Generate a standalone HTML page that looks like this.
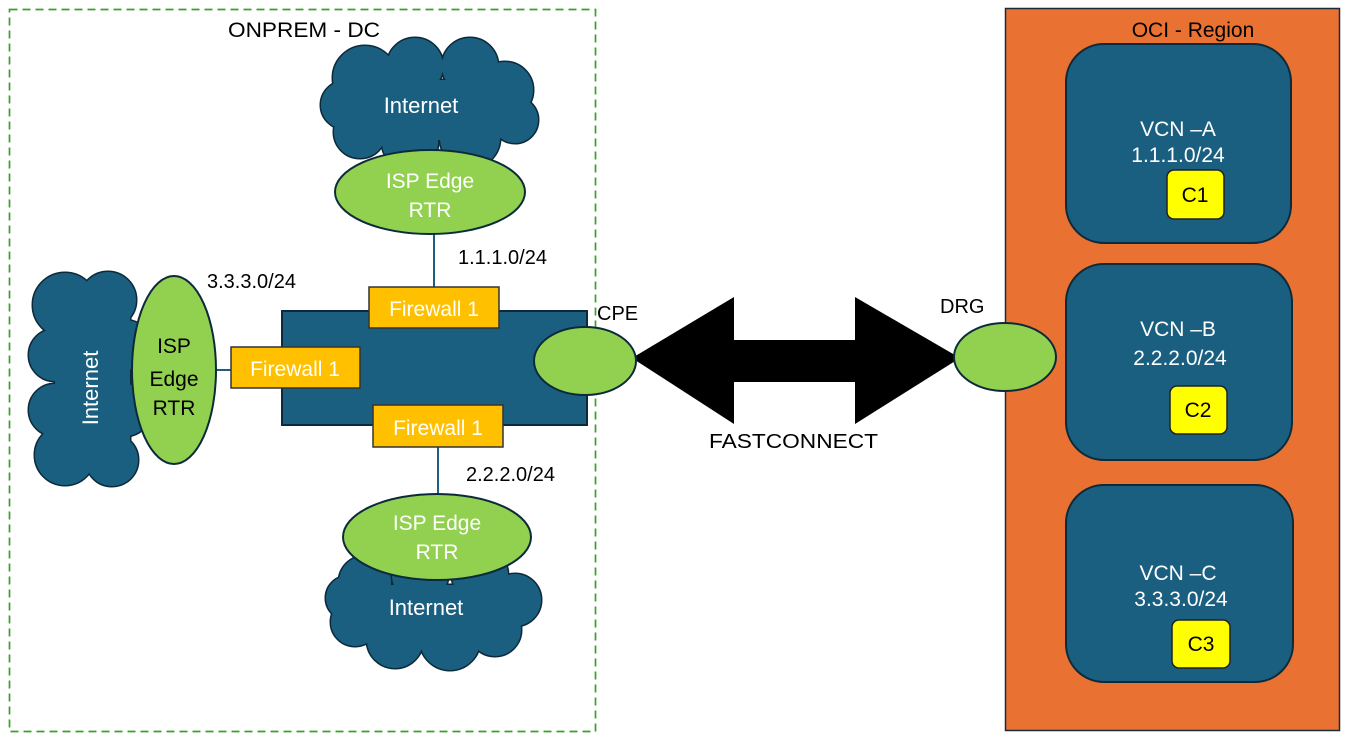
<!DOCTYPE html>
<html><head><meta charset="utf-8"><style>
body{margin:0;background:#fff}
svg{display:block}
text{font-family:"Liberation Sans",sans-serif}
</style></head><body>
<svg width="1358" height="754" viewBox="0 0 1358 754" xmlns="http://www.w3.org/2000/svg">
<defs>
<g id="c1"><circle cx="365" cy="78" r="32"/><circle cx="415" cy="66" r="28"/><circle cx="470" cy="66" r="28"/><circle cx="505" cy="90" r="28"/><circle cx="515" cy="120" r="23"/><circle cx="470" cy="138" r="30"/><circle cx="410" cy="142" r="28"/><circle cx="360" cy="132" r="26"/><circle cx="345" cy="105" r="24"/><rect x="360" y="80" width="140" height="60"/></g>
<g id="c3"><circle cx="365" cy="582" r="26"/><circle cx="420" cy="575" r="28"/><circle cx="480" cy="575" r="28"/><circle cx="515" cy="600" r="26"/><circle cx="495" cy="630" r="26"/><circle cx="450" cy="640" r="30"/><circle cx="395" cy="640" r="28"/><circle cx="355" cy="622" r="24"/><circle cx="348" cy="598" r="22"/><rect x="360" y="585" width="140" height="50"/></g>
<g id="c2"><circle cx="65" cy="305" r="32"/><circle cx="108" cy="300" r="28"/><circle cx="55" cy="355" r="26"/><circle cx="125" cy="345" r="25"/><circle cx="55" cy="410" r="26"/><circle cx="125" cy="410" r="26"/><circle cx="65" cy="455" r="30"/><circle cx="112" cy="460" r="26"/><rect x="55" y="310" width="75" height="150"/></g>
</defs>
<rect x="9.5" y="9.5" width="586" height="722" fill="none" stroke="#3aa02a" stroke-width="1.7" stroke-dasharray="8,5"/>
<text x="304" y="37" font-size="21" text-anchor="middle" textLength="152" lengthAdjust="spacingAndGlyphs">ONPREM - DC</text>
<g fill="#1a5f80" stroke="#0d2a3a" stroke-width="3"><use href="#c1"/><use href="#c2"/><use href="#c3"/></g>
<g fill="#1a5f80"><use href="#c1"/><use href="#c2"/><use href="#c3"/></g>
<text x="421" y="113" font-size="22" fill="#fff" text-anchor="middle">Internet</text>
<text x="426" y="615" font-size="22" fill="#fff" text-anchor="middle">Internet</text>
<text transform="translate(98,388) rotate(-90)" font-size="22" fill="#fff" text-anchor="middle">Internet</text>
<line x1="434" y1="234" x2="434" y2="288" stroke="#1a5f80" stroke-width="2"/>
<line x1="438" y1="446" x2="438" y2="496" stroke="#1a5f80" stroke-width="2"/>
<line x1="216" y1="370" x2="232" y2="370" stroke="#1a5f80" stroke-width="2"/>
<g fill="#92d050" stroke="#0d2a3a" stroke-width="2">
<ellipse cx="430" cy="192" rx="95" ry="42"/>
<ellipse cx="437" cy="537" rx="94" ry="43"/>
<ellipse cx="174" cy="370" rx="42" ry="94"/>
</g>
<g font-size="21" fill="#fff" text-anchor="middle">
<text x="430" y="188">ISP Edge</text><text x="430" y="217">RTR</text>
<text x="437" y="530">ISP Edge</text><text x="437" y="559">RTR</text>
</g>
<g font-size="21" fill="#000" text-anchor="middle">
<text x="174" y="353">ISP</text><text x="174" y="386">Edge</text><text x="174" y="415">RTR</text>
</g>
<rect x="282" y="311" width="305" height="114" fill="#1a5f80" stroke="#0d2a3a" stroke-width="2"/>
<g fill="#ffc000" stroke="#333" stroke-width="1.5">
<rect x="369" y="287" width="130" height="41"/>
<rect x="231" y="347" width="129" height="41"/>
<rect x="373" y="405" width="130" height="42"/>
</g>
<g font-size="21" fill="#fff" text-anchor="middle">
<text x="434" y="316">Firewall 1</text>
<text x="295" y="376">Firewall 1</text>
<text x="438" y="435">Firewall 1</text>
</g>
<g font-size="20" fill="#000">
<text x="458" y="264">1.1.1.0/24</text>
<text x="207" y="288">3.3.3.0/24</text>
<text x="466" y="481">2.2.2.0/24</text>
<text x="597" y="320">CPE</text>
<text x="940" y="313">DRG</text>
<text x="709" y="448" textLength="169" lengthAdjust="spacingAndGlyphs">FASTCONNECT</text>
</g>
<rect x="1005.5" y="8.5" width="334" height="722" fill="#e97132" stroke="#1a2a3a" stroke-width="1.5"/>
<text x="1193" y="37" font-size="21" text-anchor="middle">OCI - Region</text>
<polygon points="632,358 734,297 734,340 855,340 855,297 960,358 855,424 855,382 734,382 734,424" fill="#000"/>
<ellipse cx="585" cy="361" rx="51" ry="34" fill="#92d050" stroke="#0d2a3a" stroke-width="2"/>
<ellipse cx="1005" cy="357" rx="51" ry="34" fill="#92d050" stroke="#0d2a3a" stroke-width="2"/>
<g fill="#1a5f80" stroke="#0d2a3a" stroke-width="2">
<rect x="1066" y="44" width="225" height="199" rx="38"/>
<rect x="1066" y="264" width="226" height="196" rx="38"/>
<rect x="1066" y="485" width="227" height="197" rx="38"/>
</g>
<g fill="#ffff00" stroke="#222" stroke-width="1.5">
<rect x="1167" y="170" width="57" height="49" rx="7"/>
<rect x="1170" y="386" width="57" height="48" rx="7"/>
<rect x="1172" y="620" width="58" height="48" rx="7"/>
</g>
<g font-size="21" fill="#fff" text-anchor="middle">
<text x="1178" y="136">VCN –A</text><text x="1178" y="162">1.1.1.0/24</text>
<text x="1178" y="336">VCN –B</text><text x="1180" y="365">2.2.2.0/24</text>
<text x="1178" y="580">VCN –C</text><text x="1181" y="606">3.3.3.0/24</text>
</g>
<g font-size="21" fill="#000" text-anchor="middle">
<text x="1195" y="202">C1</text><text x="1198" y="417">C2</text><text x="1201" y="651">C3</text>
</g>
</svg>
</body></html>
